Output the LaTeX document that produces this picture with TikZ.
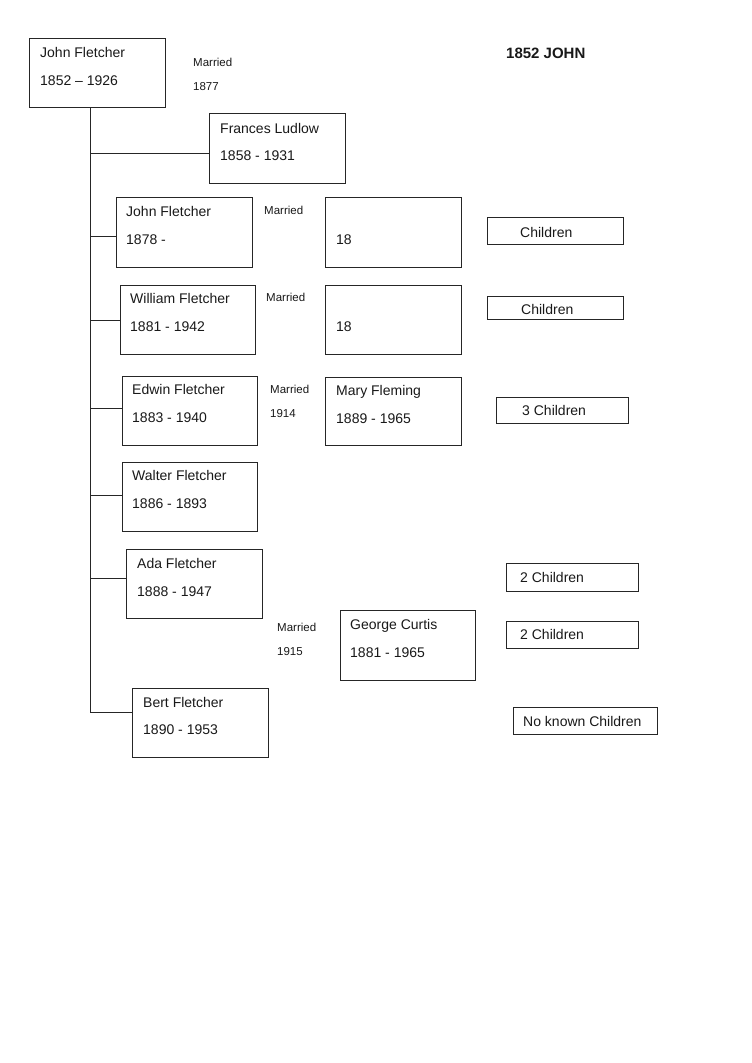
\documentclass[tikz,border=0pt]{standalone}
\usepackage{fontspec}
\setmainfont{Liberation Sans}
\begin{document}
\begin{tikzpicture}[x=1pt,y=-1pt,
  ln/.style={draw=black!85,line width=0.8pt},
  pbox/.style={ln,rectangle,anchor=north west,inner sep=0pt,outer sep=0pt},
  nm/.style={anchor=base west,inner sep=0pt,font=\fontsize{14}{16}\selectfont,text=black!90},
  sm/.style={anchor=base west,inner sep=0pt,font=\fontsize{11.5}{13}\selectfont,text=black!90},
  ttl/.style={anchor=base west,inner sep=0pt,font=\fontsize{15}{17}\selectfont\bfseries,text=black!90}]
\useasboundingbox[fill=white] (0,0) rectangle (752,1063);

% person boxes
\node[pbox,minimum width=136,minimum height=69] (jf) at (29,38) {};
\node[pbox,minimum width=136,minimum height=70] (fl) at (209,113) {};
\node[pbox,minimum width=136,minimum height=70] (jc) at (116,197) {};
\node[pbox,minimum width=136,minimum height=70] (jcw) at (325,197) {};
\node[pbox,minimum width=135,minimum height=69] (wf) at (120,285) {};
\node[pbox,minimum width=136,minimum height=69] (wfw) at (325,285) {};
\node[pbox,minimum width=135,minimum height=69] (ef) at (122,376) {};
\node[pbox,minimum width=136,minimum height=68] (mf) at (325,377) {};
\node[pbox,minimum width=135,minimum height=69] (wa) at (122,462) {};
\node[pbox,minimum width=136,minimum height=69] (ad) at (126,549) {};
\node[pbox,minimum width=135,minimum height=70] (gc) at (340,610) {};
\node[pbox,minimum width=136,minimum height=69] (bf) at (132,688) {};

% children boxes
\node[pbox,minimum width=136,minimum height=27] (c1) at (487,217) {};
\node[pbox,minimum width=136,minimum height=23] (c2) at (487,296) {};
\node[pbox,minimum width=132,minimum height=26] (c3) at (496,397) {};
\node[pbox,minimum width=132,minimum height=28] (c4) at (506,563) {};
\node[pbox,minimum width=132,minimum height=27] (c5) at (506,621) {};
\node[pbox,minimum width=144,minimum height=27] (c6) at (513,707) {};

% texts in person boxes
\node[nm] (t1a) at ([shift={(11,19)}]jf.north west) {John Fletcher};
\node[nm] (t1b) at ([shift={(11,47)}]jf.north west) {1852 – 1926};
\node[nm] (t2a) at ([shift={(11,20)}]fl.north west) {Frances Ludlow};
\node[nm] (t2b) at ([shift={(11,47)}]fl.north west) {1858 - 1931};
\node[nm] (t3a) at ([shift={(10,19)}]jc.north west) {John Fletcher};
\node[nm] (t3b) at ([shift={(10,47)}]jc.north west) {1878 -};
\node[nm] (t4b) at ([shift={(11,47)}]jcw.north west) {18};
\node[nm] (t5a) at ([shift={(10,18)}]wf.north west) {William Fletcher};
\node[nm] (t5b) at ([shift={(10,46)}]wf.north west) {1881 - 1942};
\node[nm] (t6b) at ([shift={(11,46)}]wfw.north west) {18};
\node[nm] (t7a) at ([shift={(10,18)}]ef.north west) {Edwin Fletcher};
\node[nm] (t7b) at ([shift={(10,46)}]ef.north west) {1883 - 1940};
\node[nm] (t8a) at ([shift={(11,18)}]mf.north west) {Mary Fleming};
\node[nm] (t8b) at ([shift={(11,46)}]mf.north west) {1889 - 1965};
\node[nm] (t9a) at ([shift={(10,18)}]wa.north west) {Walter Fletcher};
\node[nm] (t9b) at ([shift={(10,46)}]wa.north west) {1886 - 1893};
\node[nm] (t10a) at ([shift={(11,19)}]ad.north west) {Ada Fletcher};
\node[nm] (t10b) at ([shift={(11,47)}]ad.north west) {1888 - 1947};
\node[nm] (t11a) at ([shift={(10,19)}]gc.north west) {George Curtis};
\node[nm] (t11b) at ([shift={(10,47)}]gc.north west) {1881 - 1965};
\node[nm] (t12a) at ([shift={(11,19)}]bf.north west) {Bert Fletcher};
\node[nm] (t12b) at ([shift={(11,46)}]bf.north west) {1890 - 1953};

% children texts
\node[nm] (ct1) at (520,237) {Children};
\node[nm] (ct2) at (521,314) {Children};
\node[nm] (ct3) at (522,415) {3 Children};
\node[nm] (ct4) at (520,582) {2 Children};
\node[nm] (ct5) at (520,639) {2 Children};
\node[nm] (ct6) at (523,726) {No known Children};

% married labels
\node[sm] (m1) at (193,66) {Married};
\node[sm] (m1y) at (193,90) {1877};
\node[sm] (m2) at (264,214) {Married};
\node[sm] (m3) at (266,301) {Married};
\node[sm] (m4) at (270,393) {Married};
\node[sm] (m4y) at (270,417) {1914};
\node[sm] (m5) at (277,631) {Married};
\node[sm] (m5y) at (277,655) {1915};

% title
\node[ttl] (title) at (506,58) {1852 JOHN};

% spine and branches
\coordinate (s0) at (90,107);
\coordinate (b1) at (90,153);
\coordinate (b2) at (90,236);
\coordinate (b3) at (90,320);
\coordinate (b4) at (90,408);
\coordinate (b5) at (90,495);
\coordinate (b6) at (90,578);
\coordinate (b7) at (90,712);
\draw[ln] (s0) -- (b7) -- (b7 -| bf.west);
\draw[ln] (b1) -- (b1 -| fl.west);
\draw[ln] (b2) -- (b2 -| jc.west);
\draw[ln] (b3) -- (b3 -| wf.west);
\draw[ln] (b4) -- (b4 -| ef.west);
\draw[ln] (b5) -- (b5 -| wa.west);
\draw[ln] (b6) -- (b6 -| ad.west);
\end{tikzpicture}
\end{document}
